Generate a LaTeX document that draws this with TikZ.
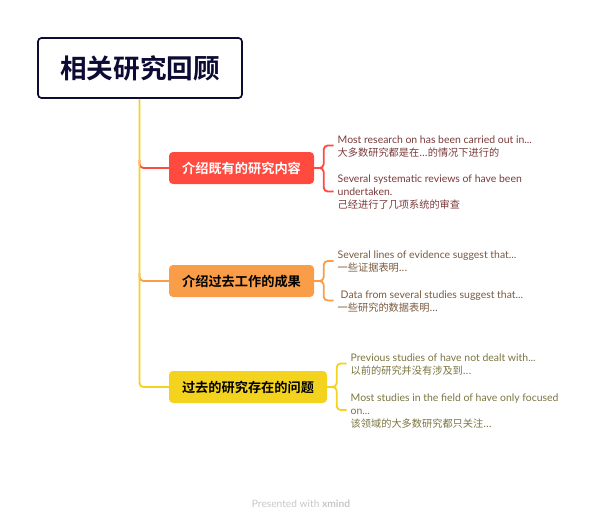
\documentclass[tikz,border=0pt]{standalone}
\usepackage{fontspec}
\setmainfont{Lato}
\newfontfamily\cjk{Noto Sans CJK SC}
\newfontfamily\cjkb{Noto Sans CJK SC Bold}[BoldFont={}]
\newcommand{\zh}[1]{{\cjk\fontsize{10.2}{13.2}\selectfont #1}}
\definecolor{navy}{HTML}{0B0B33}
\definecolor{cred}{HTML}{FF4A3F}
\definecolor{corange}{HTML}{F99D49}
\definecolor{cyellow}{HTML}{F4D31F}
\definecolor{tred}{HTML}{7B3A3A}
\definecolor{torange}{HTML}{7A5A3E}
\definecolor{tyellow}{HTML}{7C7440}
\tikzset{
  titlebox/.style={draw=navy,line width=1.7pt,rounded corners=3.5pt,fill=white,minimum width=204pt,minimum height=60pt,inner sep=0pt,text=navy,font=\fontsize{26.6}{30}\cjkb},
  topicbox/.style={rounded corners=4pt,minimum height=32pt,inner sep=0pt,font=\fontsize{13.2}{16}\cjkb},
  leaf/.style={anchor=west,inner xsep=4pt,inner ysep=0pt,align=left,font=\fontsize{10.45}{13.2}\selectfont},
  branch/.style={line width=1.8pt,rounded corners=4pt},
}
\begin{document}
\begin{tikzpicture}[x=1pt,y=-1pt]
\useasboundingbox (0,0) rectangle (600,522);
\node[titlebox] (root) at (140,68) {相关研究回顾};
\node[topicbox,fill=cred,text=white,minimum width=145pt] (t1) at (241.5,168) {介绍既有的研究内容};
\node[topicbox,fill=corange,text=black,minimum width=145pt] (t2) at (241.5,281) {介绍过去工作的成果};
\node[topicbox,fill=cyellow,text=black,minimum width=158pt] (t3) at (248,387) {过去的研究存在的问题};
\node[leaf,text=tred] (a1) at (333.5,146.3) {Most research on has been carried out in...\\\zh{大多数研究都是在...的情况下进行的}};
\node[leaf,text=tred] (a2) at (333.5,192.3) {Several systematic reviews of have been\\undertaken.\\\zh{己经进行了几项系统的审查}};
\node[leaf,text=torange] (b1) at (333.5,261.8) {Several lines of evidence suggest that...\\\zh{一些证据表明...}};
\node[leaf,text=torange] (b2) at (333.5,301.3) {\hspace{3pt}Data from several studies suggest that...\\\zh{一些研究的数据表明...}};
\node[leaf,text=tyellow] (c1) at (346.5,364.3) {Previous studies of have not dealt with...\\\zh{以前的研究并没有涉及到...}};
\node[leaf,text=tyellow] (c2) at (346.5,410.8) {Most studies in the field of have only focused\\on...\\\zh{该领域的大多数研究都只关注...}};
\node[text=black!22,inner sep=0pt,font=\fontsize{10.2}{12}\selectfont] (foot) at (301,504) {Presented with \textbf{xmind}};
\coordinate (s1) at (139.5,160);
\coordinate (s2) at (139.5,273);
\draw[branch,cred] (s1) |- (t1.west);
\draw[branch,corange] (s2) |- (t2.west);
\draw[branch,cyellow] (root.south -| s1) |- (t3.west);
\draw[branch,cred] (t1.east) -- ++(9.5,0) |- ([yshift=.8pt]a1.west);
\draw[branch,cred] (t1.east) -- ++(9.5,0) |- ([yshift=.8pt]a2.west);
\draw[branch,corange] (t2.east) -- ++(9.5,0) |- ([yshift=.8pt]b1.west);
\draw[branch,corange] (t2.east) -- ++(9.5,0) |- ([yshift=.8pt]b2.west);
\draw[branch,cyellow] (t3.east) -- ++(9.5,0) |- ([yshift=.8pt]c1.west);
\draw[branch,cyellow] (t3.east) -- ++(9.5,0) |- ([yshift=.8pt]c2.west);
\end{tikzpicture}
\end{document}
